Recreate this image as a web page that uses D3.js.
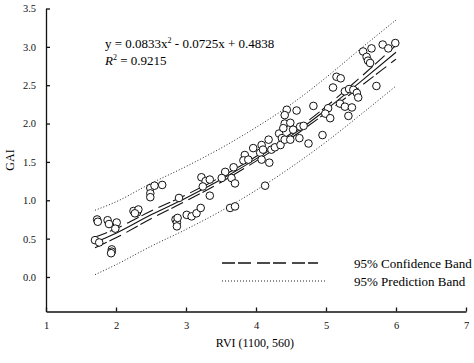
<!DOCTYPE html>
<html>
<head>
<meta charset="utf-8">
<script src="https://cdn.jsdelivr.net/npm/d3@7"></script>
<style>
  body { margin: 0; background: #fff; }
  svg text { font-family: "Liberation Serif", "Times New Roman", serif; }
</style>
</head>
<body>
<svg width="474" height="363"></svg>
<script>
// observed points (RVI, GAI)
var rvi = [1.73,1.74,1.88,1.90,2.01,1.99,1.70,1.76,1.94,1.94,1.93,2.25,2.30,2.32,2.27,
  2.49,2.49,2.49,2.55,2.66,2.90,2.85,2.87,2.87,2.88,3.01,3.08,3.15,3.21,3.22,3.28,3.34,3.24,
  3.34,3.56,3.51,3.68,3.65,3.70,3.63,3.70,4.13,3.84,3.82,3.89,3.96,4.06,4.08,4.10,4.18,4.08,
  4.19,4.22,4.27,4.33,4.37,4.35,4.41,4.49,4.41,4.39,4.44,4.41,4.49,4.58,4.53,4.63,4.62,4.75,
  4.68,5.53,5.58,5.60,5.63,5.65,5.81,5.89,5.99,5.72,5.15,5.21,5.10,5.27,5.33,5.39,5.44,5.46,
  4.82,5.20,5.27,5.37,5.32,5.03,4.99,5.06,4.95];
var gai = [0.75,0.72,0.74,0.69,0.71,0.63,0.48,0.45,0.36,0.33,0.31,0.86,0.84,0.88,0.83,
  1.16,1.09,1.04,1.19,1.20,1.03,0.75,0.71,0.66,0.77,0.81,0.79,0.83,0.90,1.30,1.25,1.27,1.18,
  1.06,1.37,1.29,1.43,1.29,1.22,0.90,0.92,1.19,1.59,1.52,1.53,1.68,1.62,1.72,1.66,1.79,1.53,
  1.49,1.66,1.69,1.87,1.81,1.72,1.79,1.79,2.00,1.94,2.18,2.11,2.01,2.17,1.92,1.96,1.81,1.74,
  1.97,2.94,2.87,2.82,2.79,2.98,3.03,2.98,3.05,2.49,2.61,2.59,2.47,2.42,2.45,2.44,2.40,2.34,
  2.23,2.26,2.22,2.21,2.10,2.20,2.13,2.07,1.85];

// fitted curve and bands
var bandX  = [1.7, 2.0, 2.5, 3.0, 3.5, 4.0, 4.5, 5.0, 5.5, 6.0];
var fitY   = [0.45,0.57,0.81,1.03,1.27,1.54,1.84,2.18,2.55,2.93];
var confLo = [0.38,0.51,0.76,0.99,1.235,1.51,1.81,2.14,2.49,2.84];
var confHi = [0.52,0.63,0.86,1.07,1.305,1.57,1.87,2.22,2.61,3.02];
var predLo = [0.03,0.16,0.40,0.62,0.86,1.13,1.43,1.76,2.12,2.49];
var predHi = [0.87,0.98,1.22,1.44,1.68,1.95,2.25,2.60,2.98,3.35];

var xTicks = [1,2,3,4,5,6,7];
var yTicks = [0,0.5,1,1.5,2,2.5,3,3.5];

var serif = "Liberation Serif, Times New Roman, serif";
var svg = d3.select("svg");

var x = d3.scaleLinear().domain([1, 7]).range([46, 466]);
var y = d3.scaleLinear().domain([-0.45, 3.5]).range([311.5, 8.5]);

// axes
svg.append("g")
    .attr("transform", "translate(0,311.5)")
    .call(d3.axisBottom(x).tickValues(xTicks).tickFormat(d3.format("d"))
        .tickSizeInner(-4).tickSizeOuter(0).tickPadding(10));
svg.append("g")
    .attr("transform", "translate(46,0)")
    .call(d3.axisLeft(y).tickValues(yTicks).tickFormat(d3.format(".1f"))
        .tickSizeInner(-4).tickSizeOuter(0).tickPadding(10));

svg.selectAll("g").attr("font-family", serif);
svg.selectAll(".domain, .tick line").attr("stroke", "#111").attr("stroke-width", 1.3);
svg.selectAll(".tick text").attr("font-size", 10.5).attr("fill", "#111");

svg.append("text")
    .attr("x", 255).attr("y", 343).attr("dy", "0.35em")
    .attr("text-anchor", "middle").attr("font-size", 12)
    .text("RVI (1100, 560)");

svg.append("text")
    .attr("transform", "translate(10,160) rotate(-90)")
    .attr("dy", "0.35em")
    .attr("text-anchor", "middle").attr("font-size", 12)
    .text("GAI");

// lines
function bandLine(vals) {
    return d3.line()
        .x(function (d, i) { return x(bandX[i]); })
        .y(function (d) { return y(d); })
        .curve(d3.curveMonotoneX)(vals);
}

svg.append("path").attr("d", bandLine(predLo))
    .attr("fill", "none").attr("stroke", "#222").attr("stroke-width", 1).attr("stroke-dasharray", "1,2");
svg.append("path").attr("d", bandLine(predHi))
    .attr("fill", "none").attr("stroke", "#222").attr("stroke-width", 1).attr("stroke-dasharray", "1,2");
svg.append("path").attr("d", bandLine(confLo))
    .attr("fill", "none").attr("stroke", "#111").attr("stroke-width", 1.1).attr("stroke-dasharray", "13,3,13,6");
svg.append("path").attr("d", bandLine(confHi))
    .attr("fill", "none").attr("stroke", "#111").attr("stroke-width", 1.1).attr("stroke-dasharray", "13,3,13,6");
svg.append("path").attr("d", bandLine(fitY))
    .attr("fill", "none").attr("stroke", "#111").attr("stroke-width", 1.1);

// points
svg.append("g").selectAll("circle")
    .data(rvi)
    .enter().append("circle")
    .attr("cx", function (d) { return x(d); })
    .attr("cy", function (d, i) { return y(gai[i]); })
    .attr("r", 3.8)
    .attr("fill", "#fff")
    .attr("stroke", "#111")
    .attr("stroke-width", 1);

// equation
var eq = svg.append("text").attr("x", 105).attr("y", 43).attr("dy", "0.35em").attr("font-size", 13);
eq.append("tspan").text("y = 0.0833x");
eq.append("tspan").attr("font-size", 8).attr("dy", "-5").text("2");
eq.append("tspan").attr("dy", "5").text(" - 0.0725x + 0.4838");

var r2 = svg.append("text").attr("x", 105).attr("y", 60).attr("dy", "0.35em").attr("font-size", 13);
r2.append("tspan").attr("font-style", "italic").text("R");
r2.append("tspan").attr("font-size", 8).attr("dy", "-5").text("2");
r2.append("tspan").attr("dy", "5").text(" = 0.9215");

// legend
svg.append("line").attr("x1", 222).attr("x2", 318).attr("y1", 263).attr("y2", 263)
    .attr("stroke", "#111").attr("stroke-width", 1.3).attr("stroke-dasharray", "13,3,13,6");
svg.append("line").attr("x1", 222).attr("x2", 325).attr("y1", 281).attr("y2", 281)
    .attr("stroke", "#222").attr("stroke-width", 1).attr("stroke-dasharray", "1,2");
svg.append("text").attr("x", 354).attr("y", 263).attr("dy", "0.35em").attr("font-size", 13)
    .text("95% Confidence Band");
svg.append("text").attr("x", 354).attr("y", 281).attr("dy", "0.35em").attr("font-size", 13)
    .text("95% Prediction Band");
</script>
</body>
</html>
